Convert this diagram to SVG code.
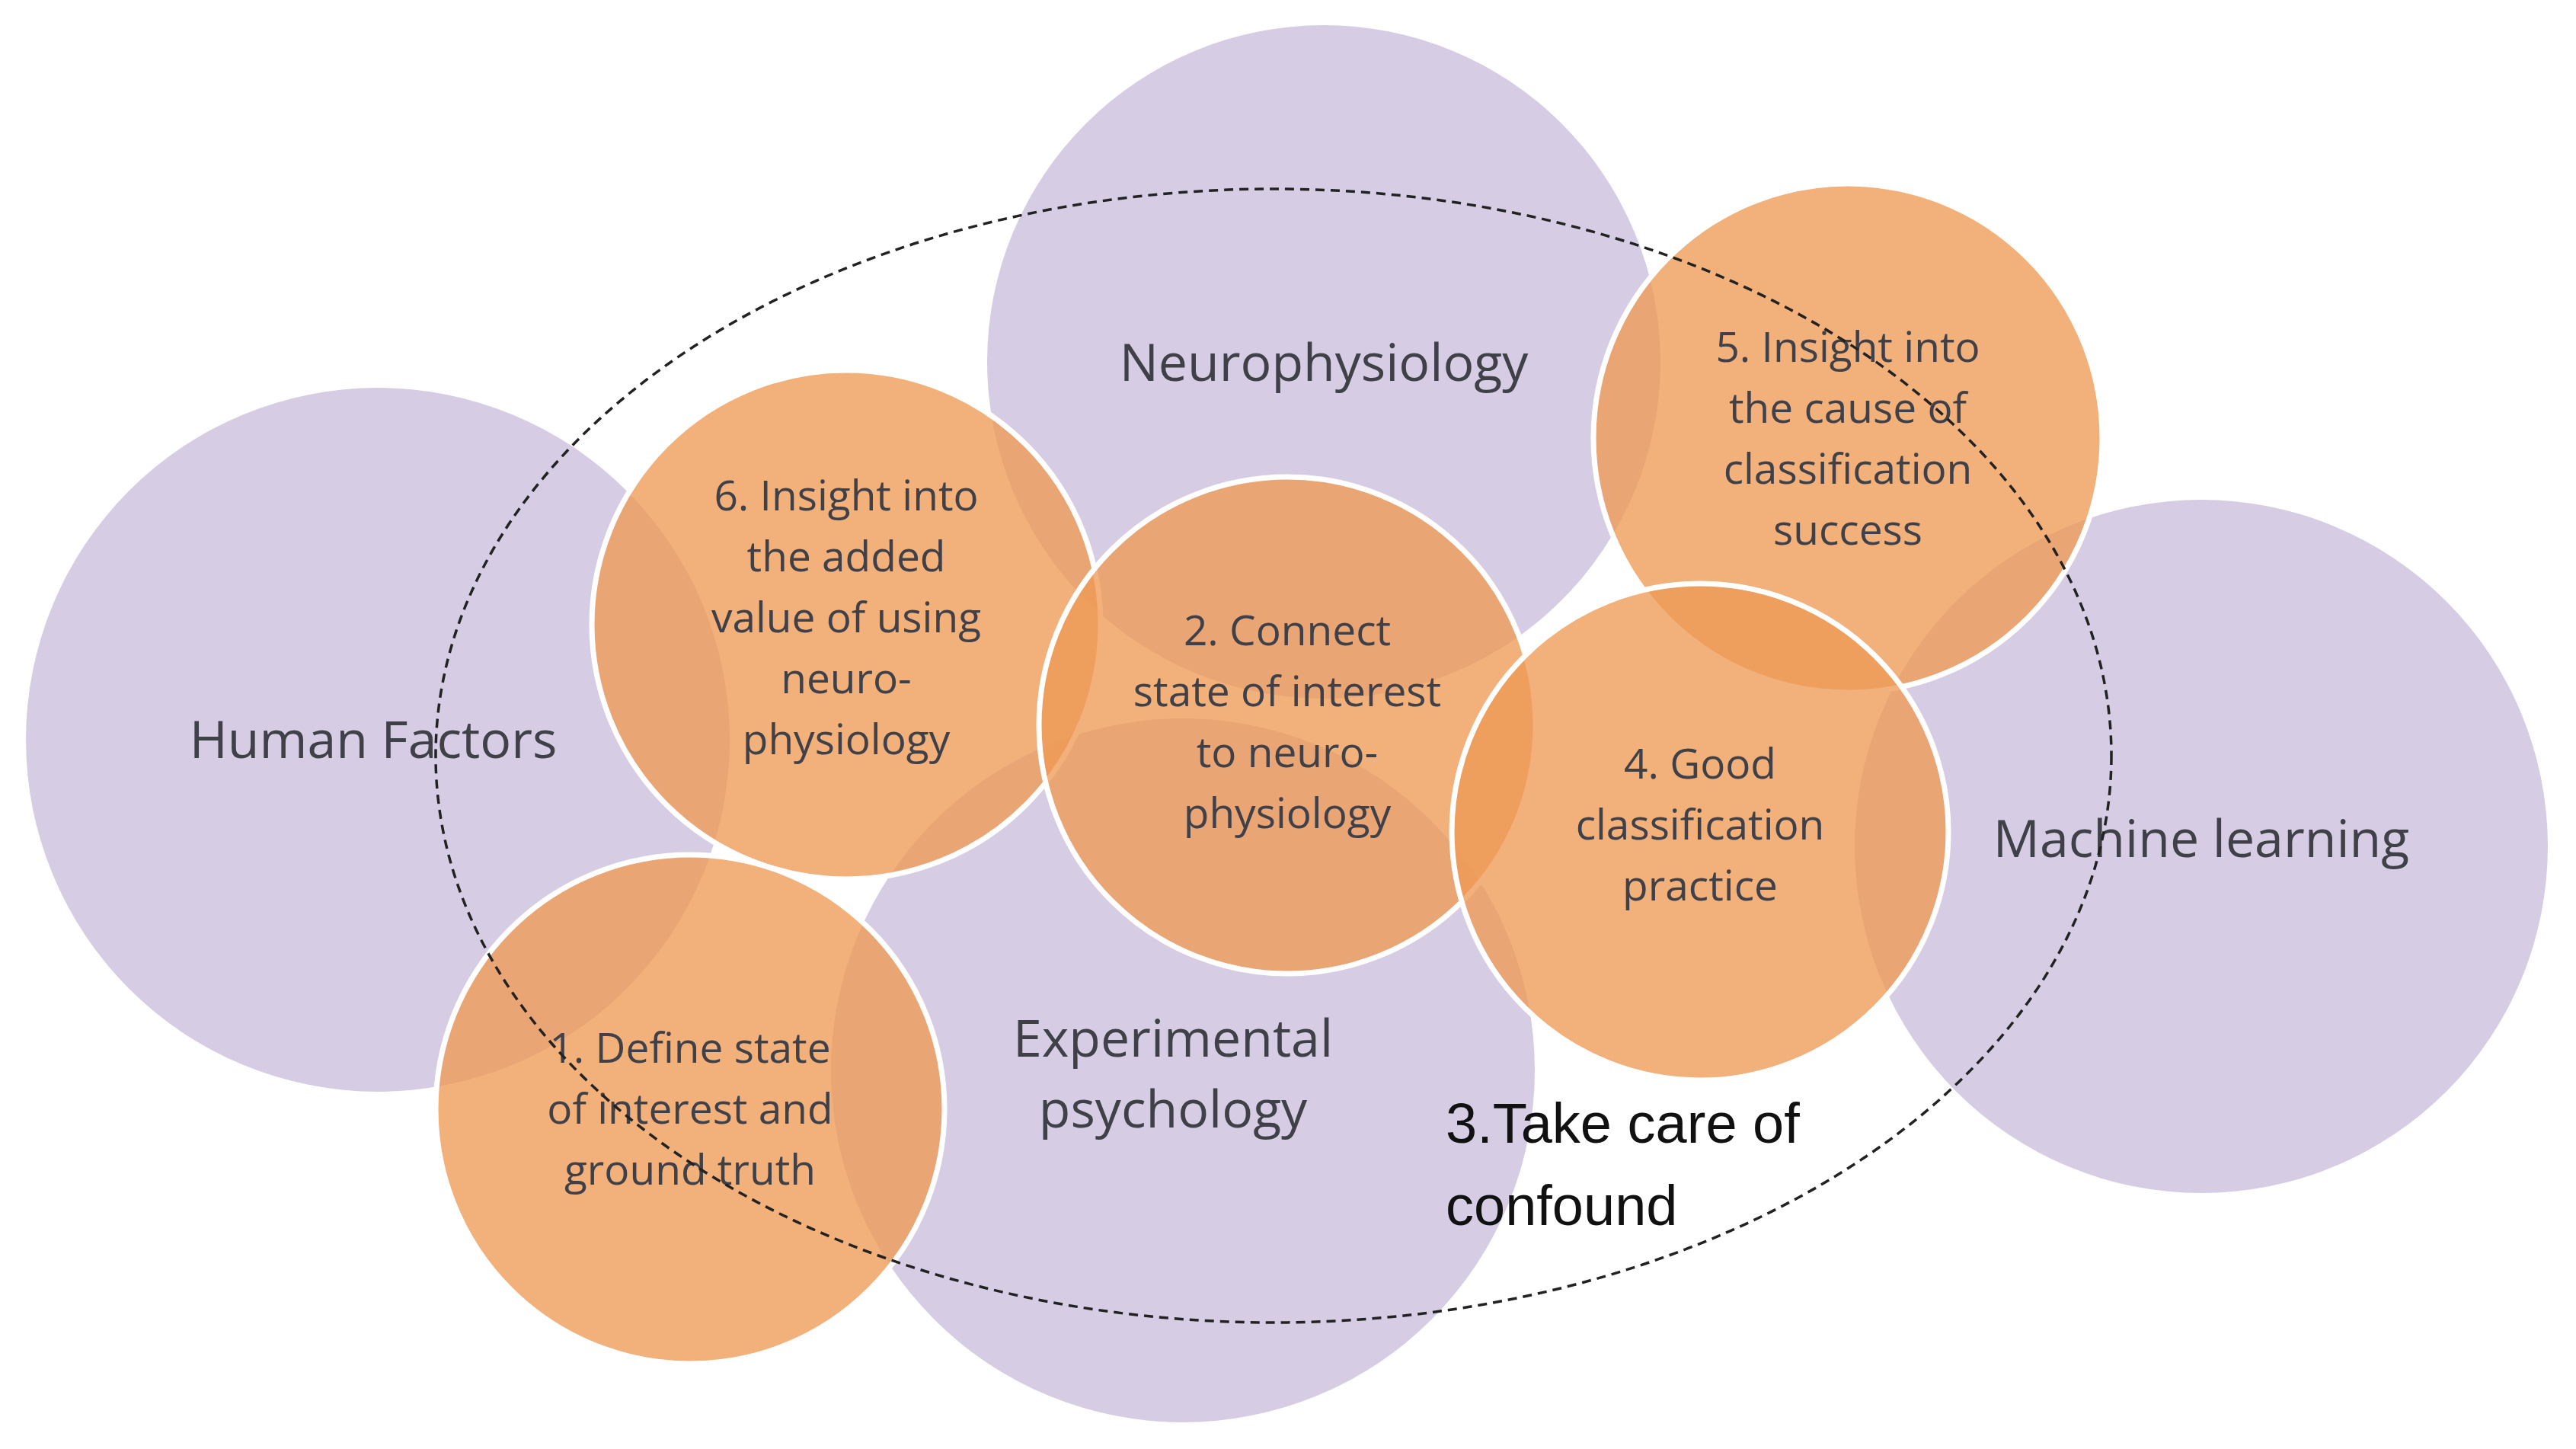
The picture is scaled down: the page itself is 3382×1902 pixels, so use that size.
<svg xmlns="http://www.w3.org/2000/svg" width="3382" height="1902" viewBox="0 0 3382 1902">
<style>
.p{fill:#d6cde4}
.o{fill:#ee9a55;fill-opacity:0.78;stroke:#ffffff;stroke-width:7}
.t{font-family:"Open Sans","Liberation Sans",sans-serif;fill:#404048;text-anchor:middle}
.big{font-size:68px}
.sm{font-size:55px}
</style>
<rect width="3382" height="1902" fill="#ffffff"/>
<g id="human-factors"><circle class="p" cx="496" cy="971" r="462"/><text class="t big" x="490" y="995">Human Factors</text></g>
<g id="neurophysiology"><circle class="p" cx="1738" cy="475" r="442"/><text class="t big" x="1738" y="500">Neurophysiology</text></g>
<g id="experimental-psychology"><circle class="p" cx="1553" cy="1405" r="462"/><text class="t big" x="1540" y="1387">Experimental</text><text class="t big" x="1540" y="1480">psychology</text></g>
<g id="machine-learning"><circle class="p" cx="2890" cy="1111" r="455"/><text class="t big" x="2890" y="1125">Machine learning</text></g>
<g id="n6"><circle class="o" cx="1111" cy="820" r="334"/><text class="t sm" x="1111" y="670">6. Insight into</text><text class="t sm" x="1111" y="750">the added</text><text class="t sm" x="1111" y="830">value of using</text><text class="t sm" x="1111" y="910">neuro-</text><text class="t sm" x="1111" y="990">physiology</text></g>
<g id="n2"><circle class="o" cx="1690" cy="952" r="326"/><text class="t sm" x="1690" y="847">2. Connect</text><text class="t sm" x="1690" y="927">state of interest</text><text class="t sm" x="1690" y="1007">to neuro-</text><text class="t sm" x="1690" y="1087">physiology</text></g>
<g id="n5"><circle class="o" cx="2426" cy="575" r="334"/><text class="t sm" x="2426" y="475">5. Insight into</text><text class="t sm" x="2426" y="555">the cause of</text><text class="t sm" x="2426" y="635">classification</text><text class="t sm" x="2426" y="715">success</text></g>
<g id="n4"><circle class="o" cx="2232" cy="1092" r="326"/><text class="t sm" x="2232" y="1022">4. Good</text><text class="t sm" x="2232" y="1102">classification</text><text class="t sm" x="2232" y="1182">practice</text></g>
<g id="n1"><circle class="o" cx="906" cy="1456" r="334"/><text class="t sm" x="906" y="1395">1. Define state</text><text class="t sm" x="906" y="1475">of interest and</text><text class="t sm" x="906" y="1555">ground truth</text></g>
<g id="connectors"><ellipse cx="1672" cy="992" rx="1100" ry="744" fill="none" stroke="#222" stroke-width="3.5" stroke-dasharray="12 8"/></g>
<g id="n3"><text x="1898" y="1500" font-family="Liberation Sans,Arial,sans-serif" font-size="74" fill="#111">3.Take care of</text><text x="1898" y="1608" font-family="Liberation Sans,Arial,sans-serif" font-size="74" fill="#111">confound</text></g>
</svg>
